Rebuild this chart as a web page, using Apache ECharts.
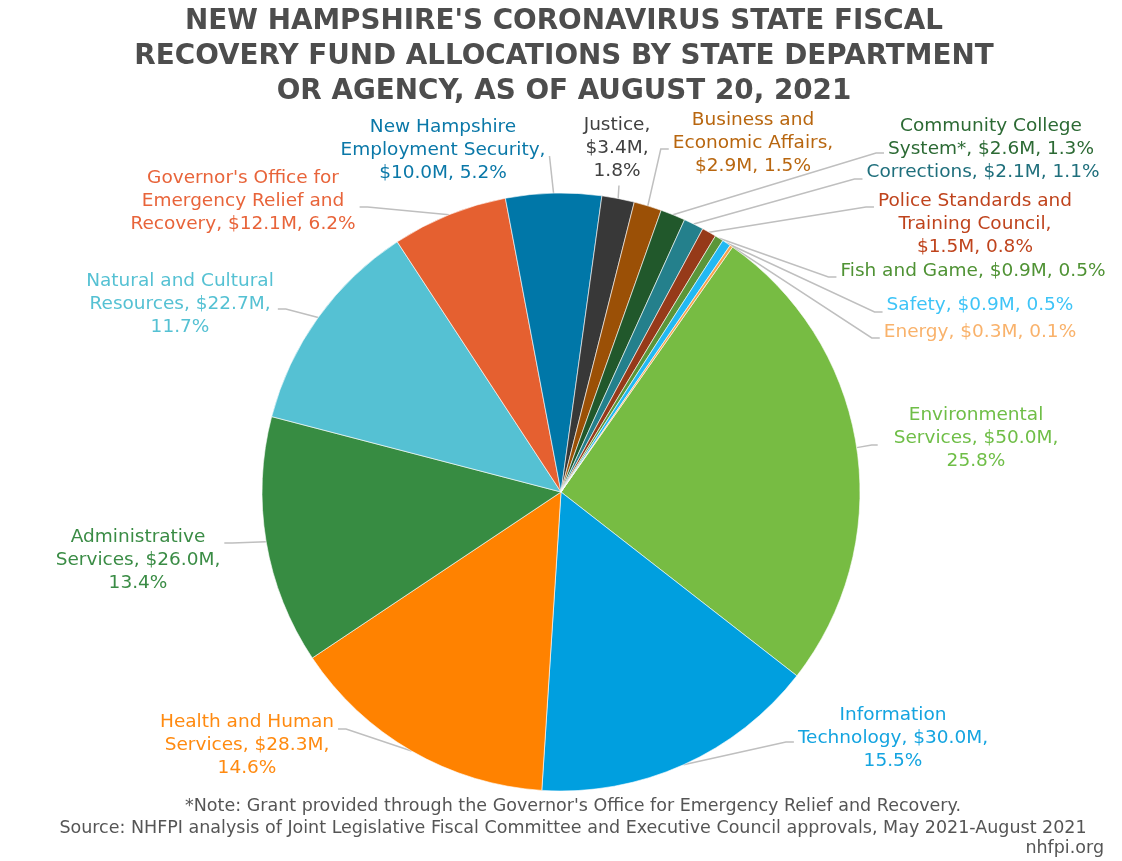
<!DOCTYPE html>
<html>
<head>
<meta charset="utf-8">
<script src="https://cdn.jsdelivr.net/npm/echarts@6/dist/echarts.min.js"></script>
<style>
html, body { margin: 0; padding: 0; background: #fff; }
#main { width: 1122px; height: 861px; }
</style>
</head>
<body>
<div id="main"></div>
<script>
// allocations in millions of dollars, clockwise starting at Environmental Services
var categories = [
  'Environmental Services', 'Information Technology', 'Health and Human Services',
  'Administrative Services', 'Natural and Cultural Resources',
  "Governor's Office for Emergency Relief and Recovery", 'New Hampshire Employment Security',
  'Justice', 'Business and Economic Affairs', 'Community College System*', 'Corrections',
  'Police Standards and Training Council', 'Fish and Game', 'Safety', 'Energy'
];
var values = [50.0, 30.0, 28.3, 26.0, 22.7, 12.1, 10.0, 3.4, 2.9, 2.6, 2.1, 1.5, 0.9, 0.9, 0.3];
var percents = [25.8, 15.5, 14.6, 13.4, 11.7, 6.2, 5.2, 1.8, 1.5, 1.3, 1.1, 0.8, 0.5, 0.5, 0.1];

var sliceColors = ['#77bc43', '#009fdf', '#ff8200', '#378c42', '#55c1d3', '#e56030', '#0077a8',
  '#383838', '#9b5006', '#21582b', '#24808c', '#963a19', '#5b9639', '#22b9f3', '#f8a24d'];
var labelColors = ['#6fbe47', '#14a4e0', '#ff8a10', '#3a8c45', '#55c1d3', '#e8643a', '#0a78a8',
  '#404040', '#b8660f', '#2c6a34', '#1f6f7c', '#bf431c', '#4f9234', '#3ec4f7', '#f9b26b'];

// label text lines ({v} = dollars, {p} = share), centre of the text block,
// which side the leader line meets and how far off the centre line it meets it
var labelSpots = [
  { lines: ['Environmental', 'Services, {v},', '{p}'], at: [976, 438], side: 'left', off: 7, gap: 16, tick: 6 },
  { lines: ['Information', 'Technology, {v},', '{p}'], at: [893, 738], side: 'left', off: 4 },
  { lines: ['Health and Human', 'Services, {v},', '{p}'], at: [247, 745], side: 'right', off: -16 },
  { lines: ['Administrative', 'Services, {v},', '{p}'], at: [138, 560], side: 'right', off: -17 },
  { lines: ['Natural and Cultural', 'Resources, {v},', '{p}'], at: [180, 304], side: 'right', off: 5 },
  { lines: ["Governor's Office for", 'Emergency Relief and', 'Recovery, {v}, {p}'], at: [243, 201], side: 'right', off: 6 },
  { lines: ['New Hampshire', 'Employment Security,', '{v}, {p}'], at: [443, 150], side: 'right', off: 6, tick: 0 },
  { lines: ['Justice,', '{v},', '{p}'], at: [617, 148], side: 'bottom', off: 2 },
  { lines: ['Business and', 'Economic Affairs,', '{v}, {p}'], at: [753, 143], side: 'left', off: 6 },
  { lines: ['Community College', 'System*, {v}, {p}'], at: [991, 138], side: 'left', off: 15 },
  { lines: ['Corrections, {v}, {p}'], at: [983, 172], side: 'left', off: 7 },
  { lines: ['Police Standards and', 'Training Council,', '{v}, {p}'], at: [975, 224], side: 'left', off: -17 },
  { lines: ['Fish and Game, {v}, {p}'], at: [973, 271], side: 'left', off: 6 },
  { lines: ['Safety, {v}, {p}'], at: [980, 305], side: 'left', off: 7 },
  { lines: ['Energy, {v}, {p}'], at: [980, 332], side: 'left', off: 6 }
];

var FONT = '"DejaVu Sans", "Noto Sans", sans-serif';

var pieData = categories.map(function (name, i) {
  return {
    name: name,
    value: values[i],
    itemStyle: { color: sliceColors[i] },
    label: { color: labelColors[i] }
  };
});

var myChart = echarts.init(document.getElementById('main'), null, { renderer: 'canvas' });

var option = {
  backgroundColor: '#ffffff',
  animation: false,
  graphic: [
    {
      type: 'text', x: 564, y: 4,
      style: {
        text: "NEW HAMPSHIRE'S CORONAVIRUS STATE FISCAL\nRECOVERY FUND ALLOCATIONS BY STATE DEPARTMENT\nOR AGENCY, AS OF AUGUST 20, 2021",
        align: 'center', verticalAlign: 'top', lineHeight: 35,
        font: 'bold 27.8px ' + FONT, fill: '#4d4d4d'
      }
    },
    {
      type: 'text', x: 573, y: 795,
      style: {
        text: "*Note: Grant provided through the Governor's Office for Emergency Relief and Recovery.\nSource: NHFPI analysis of Joint Legislative Fiscal Committee and Executive Council approvals, May 2021-August 2021",
        align: 'center', verticalAlign: 'top', lineHeight: 22,
        font: '17.5px ' + FONT, fill: '#555555'
      }
    },
    {
      type: 'text', x: 1104, y: 839,
      style: {
        text: 'nhfpi.org', align: 'right', verticalAlign: 'top',
        font: '17.5px ' + FONT, fill: '#555555'
      }
    }
  ],
  series: [
    {
      type: 'pie',
      center: [561, 492],
      radius: 299,
      startAngle: 55,
      clockwise: true,
      avoidLabelOverlap: false,
      data: pieData,
      itemStyle: { borderColor: '#ffffff', borderWidth: 0.6 },
      label: {
        show: true,
        position: 'outside',
        fontFamily: FONT,
        fontSize: 18.5,
        lineHeight: 23,
        overflow: 'none',
        formatter: function (p) {
          var i = p.dataIndex;
          return labelSpots[i].lines.join('\n')
            .replace('{v}', '$' + values[i].toFixed(1) + 'M')
            .replace('{p}', percents[i].toFixed(1) + '%');
        }
      },
      labelLine: {
        show: true,
        length: 10,
        length2: 10,
        lineStyle: { color: '#bfbfbf', width: 1.5 }
      },
      labelLayout: function (params) {
        var s = labelSpots[params.dataIndex];
        var w = params.labelRect.width, h = params.labelRect.height;
        var x = s.at[0], y = s.at[1];
        var tick = s.tick === undefined ? 8 : s.tick;
        var gap = s.gap === undefined ? 4 : s.gap;
        var start = params.labelLinePoints[0];
        var end, pts;
        if (s.side === 'left') {
          end = [x - w / 2 - gap, y + s.off];
          pts = [start, [end[0] - tick, end[1]], end];
        } else if (s.side === 'right') {
          end = [x + w / 2 + gap, y + s.off];
          pts = [start, [end[0] + tick, end[1]], end];
        } else {
          end = [x + s.off, y + h / 2 + 3];
          pts = [start, end];
        }
        return { x: x, y: y, align: 'center', verticalAlign: 'middle', labelLinePoints: pts };
      }
    }
  ]
};

myChart.setOption(option);
</script>
</body>
</html>
